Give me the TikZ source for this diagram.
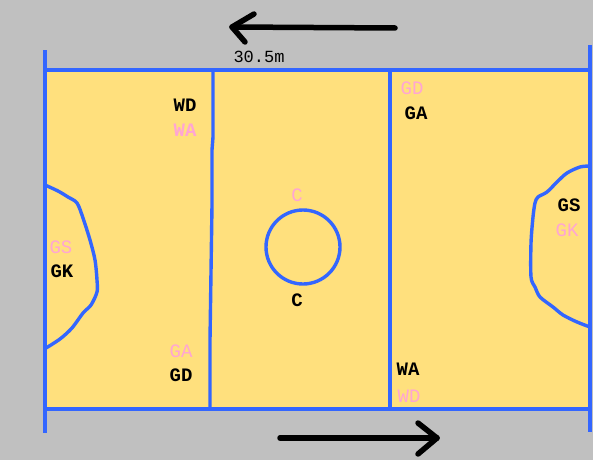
\documentclass[tikz,border=0pt]{standalone}
\usepackage{fontspec}
\newfontfamily\monofam{Liberation Mono}
\definecolor{bggray}{RGB}{192,192,192}
\definecolor{courtyellow}{RGB}{255,224,125}
\definecolor{lineblue}{RGB}{51,102,255}
\definecolor{labpink}{RGB}{255,165,212}
\tikzset{
  courtline/.style={draw=lineblue, line width=3.4pt},
  dirarrow/.style={draw=black, line width=5.5pt, line cap=round, line join=round},
  blacklab/.style={text=black, font=\monofam\bfseries\fontsize{19}{19}\selectfont, inner sep=0pt},
  pinklab/.style={text=labpink, font=\monofam\fontsize{19}{19}\selectfont, inner sep=0pt},
  pinkbold/.style={text=labpink, font=\monofam\bfseries\fontsize{19}{19}\selectfont, inner sep=0pt}
}
\begin{document}
\begin{tikzpicture}[x=1pt,y=-1pt]
\fill[bggray] (0,0) rectangle (593,460);
\useasboundingbox (0,0) rectangle (593,460);
% court
\fill[courtyellow] (45,70) rectangle (590,408);
\draw[courtline] (45,70) -- (590,70);
\draw[courtline] (44,409) -- (590,409);
\draw[courtline] (45,50) -- (45,433);
\draw[courtline] (590,45) -- (590,432);
% third lines
\draw[courtline] (213,68) -- (213,137) -- (212,150) -- (212,205) -- (211,272) -- (210,340) -- (210,409);
\draw[courtline] (390,70) -- (390,409);
% centre circle
\node[draw=lineblue, line width=3.4pt, circle, minimum size=74pt, inner sep=0pt] (centre) at (303,247) {};
% goal circles
\draw[courtline] plot[smooth, tension=0.5] coordinates {(45,185) (58,191) (68,197) (77,203) (83,218) (90,240) (95,260) (97,280) (97,292) (91,305) (83,313) (72,328) (60,339) (46,348)};
\draw[courtline] plot[smooth, tension=0.5] coordinates {(590,166) (580,167) (567,173) (557,182) (547,192) (538,197) (535,203) (533,217) (531,243) (531,277) (535,287) (540,297) (553,307) (563,315) (577,322) (590,327)};
% arrows
\coordinate (topstart) at (395,28);
\coordinate (toptip) at (232,27);
\draw[dirarrow] (topstart) -- (toptip);
\draw[dirarrow] (254,14) -- (toptip) -- (245,42);
\coordinate (botstart) at (280,438);
\coordinate (bottip) at (437,438);
\draw[dirarrow] (botstart) -- (bottip);
\draw[dirarrow] (418,423) -- (bottip) -- (418,454);
% length label
\node[text=black, font=\monofam\fontsize{17}{17}\selectfont, inner sep=0pt] (len) at (259,57) {30.5m};
% labels
\node[blacklab] (wd1) at (185,105) {WD};
\node[pinkbold] (wa1) at (185,130) {WA};
\node[pinklab] (gd1) at (412,88) {GD};
\node[blacklab] (ga1) at (416,113) {GA};
\node[pinklab] (c1) at (297,195) {C};
\node[blacklab] (c2) at (297,300) {C};
\node[pinklab] (gs1) at (61,247) {GS};
\node[blacklab] (gk1) at (62,271) {GK};
\node[blacklab] (gs2) at (569,205) {GS};
\node[pinklab] (gk2) at (567,230) {GK};
\node[pinklab] (ga2) at (181,351) {GA};
\node[blacklab] (gd2) at (181,375) {GD};
\node[blacklab] (wa2) at (408,369) {WA};
\node[pinklab] (wd2) at (409,396) {WD};
\end{tikzpicture}
\end{document}
